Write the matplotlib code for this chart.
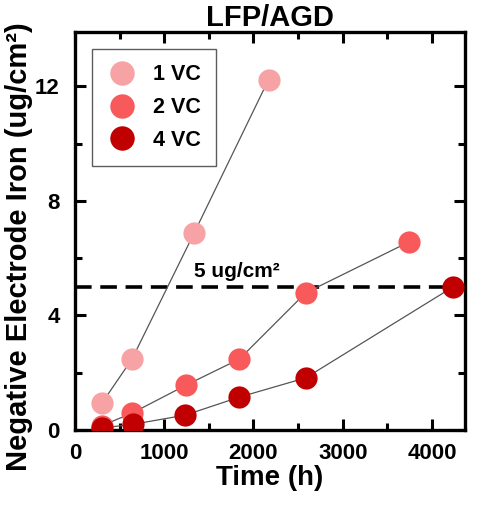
import matplotlib
matplotlib.use("Agg")
import matplotlib.pyplot as plt
from matplotlib.ticker import MultipleLocator

plt.rcParams['font.family'] = ['Liberation Sans', 'DejaVu Sans']
plt.rcParams['font.weight'] = 'bold'

t_1vc = [303, 640, 1337, 2169]
fe_1vc = [0.94, 2.48, 6.89, 12.24]
t_2vc = [300, 640, 1247, 1843, 2584, 3742]
fe_2vc = [0.15, 0.59, 1.57, 2.48, 4.79, 6.57]
t_4vc = [303, 652, 1236, 1843, 2584, 4236]
fe_4vc = [0.07, 0.20, 0.52, 1.15, 1.82, 5.00]
labels = ['1 VC', '2 VC', '4 VC']
colors = ['#F7A3A5', '#F85A5C', '#C00000']
threshold = 5
threshold_label = '5 ug/cm²'

fig = plt.figure(figsize=(4.8, 5.05), dpi=100)
ax = fig.add_axes([0.156, 0.1485, 0.813, 0.788])

for t, fe, lab, c in zip([t_1vc, t_2vc, t_4vc], [fe_1vc, fe_2vc, fe_4vc], labels, colors):
    ax.plot(t, fe, '-', color='#555555', lw=0.9, zorder=2)
    ax.plot(t, fe, 'o', color=c, ms=16, mec='none', zorder=3, label=lab)

ax.axhline(threshold, color='black', ls=(0, (4.6, 2.4)), lw=2.6, zorder=1)
ax.text(1810, threshold + 0.2, threshold_label, ha='center', va='bottom',
        fontsize=15, fontweight='bold')

ax.set_xlim(0, 4370)
ax.set_ylim(0, 13.9)
ax.xaxis.set_major_locator(MultipleLocator(1000))
ax.xaxis.set_minor_locator(MultipleLocator(500))
ax.yaxis.set_major_locator(MultipleLocator(4))
ax.yaxis.set_minor_locator(MultipleLocator(2))
ax.tick_params(which='both', direction='in', top=True, right=True, width=2.2,
               labelsize=16)
ax.tick_params(axis='x', which='major', length=8, pad=9)
ax.tick_params(axis='y', which='major', length=8, pad=11)
ax.tick_params(which='minor', length=5)
for s in ax.spines.values():
    s.set_linewidth(2.4)
for lbl in ax.get_xticklabels() + ax.get_yticklabels():
    lbl.set_fontweight('bold')

ax.set_xlabel('Time (h)', fontsize=20, fontweight='bold', labelpad=1)
ax.set_ylabel('Negative Electrode Iron (ug/cm²)', fontsize=21,
              fontweight='bold')
ax.yaxis.set_label_coords(-0.108, 0.46)
ax.set_title('LFP/AGD', fontsize=21, fontweight='bold', pad=3)

leg = ax.legend(loc='upper left', bbox_to_anchor=(0.045, 0.957), borderaxespad=0,
                fontsize=15.5, frameon=True, fancybox=False, edgecolor='#333333',
                markerscale=1.1, handletextpad=0.8, borderpad=0.7,
                labelspacing=0.55, handlelength=1.3)
leg.get_frame().set_linewidth(1.0)
for txt in leg.get_texts():
    txt.set_fontweight('bold')

fig.savefig('out.png', dpi=100)
